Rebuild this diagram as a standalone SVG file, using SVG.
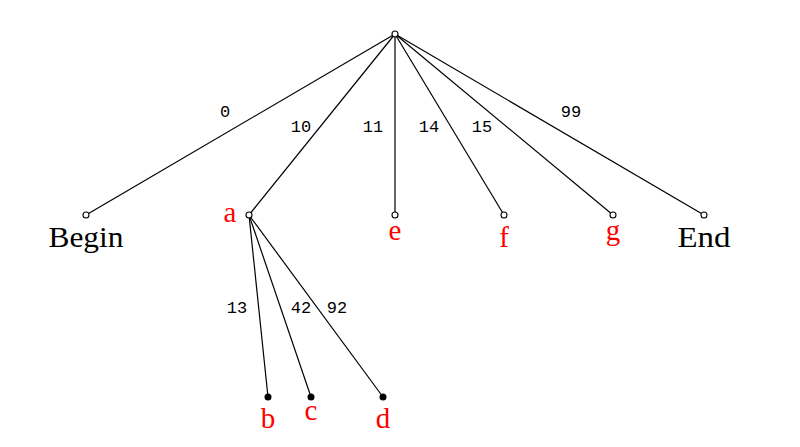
<svg xmlns="http://www.w3.org/2000/svg" width="800" height="447" viewBox="0 0 800 447">
<style>
.e{stroke:#000;stroke-width:1.2;fill:none}
.o{fill:#fff;stroke:#000;stroke-width:1.1}
.f{fill:#000}
.w{font-family:"Liberation Mono",monospace;font-size:17px;text-anchor:middle;fill:#000}
.n{font-family:"Liberation Serif",serif;font-size:29px;text-anchor:middle;fill:#000}
.r{fill:#ff0000}
</style>
<g id="connectors">
<line class="e" x1="395" y1="34" x2="86" y2="215"/>
<line class="e" x1="395" y1="34" x2="249" y2="215"/>
<line class="e" x1="395" y1="34" x2="395" y2="215"/>
<line class="e" x1="395" y1="34" x2="504" y2="215"/>
<line class="e" x1="395" y1="34" x2="613" y2="215"/>
<line class="e" x1="395" y1="34" x2="704" y2="215"/>
<line class="e" x1="249" y1="215" x2="268" y2="397"/>
<line class="e" x1="249" y1="215" x2="311" y2="397"/>
<line class="e" x1="249" y1="215" x2="383" y2="397"/>
<text class="w" x="225" y="117">0</text>
<text class="w" x="301" y="132">10</text>
<text class="w" x="373" y="132">11</text>
<text class="w" x="429" y="132">14</text>
<text class="w" x="482" y="132">15</text>
<text class="w" x="571" y="117">99</text>
<text class="w" x="237" y="313">13</text>
<text class="w" x="301" y="313">42</text>
<text class="w" x="337" y="313">92</text>
</g>
<g id="root"><circle class="o" cx="395" cy="34" r="3"/></g>
<g id="begin"><circle class="o" cx="86" cy="215" r="3"/><text class="n" x="86" y="247" textLength="75" lengthAdjust="spacingAndGlyphs">Begin</text></g>
<g id="a"><circle class="o" cx="249" cy="215" r="3"/><text class="n r" x="230" y="222">a</text></g>
<g id="e"><circle class="o" cx="395" cy="215" r="3"/><text class="n r" x="395" y="240">e</text></g>
<g id="f"><circle class="o" cx="504" cy="215" r="3"/><text class="n r" x="504" y="247">f</text></g>
<g id="g"><circle class="o" cx="613" cy="215" r="3"/><text class="n r" x="613" y="240">g</text></g>
<g id="end"><circle class="o" cx="704" cy="215" r="3"/><text class="n" x="704" y="247" textLength="53" lengthAdjust="spacingAndGlyphs">End</text></g>
<g id="b"><circle class="f" cx="268" cy="397" r="3.5"/><text class="n r" x="268" y="428">b</text></g>
<g id="c"><circle class="f" cx="311" cy="397" r="3.5"/><text class="n r" x="311" y="420">c</text></g>
<g id="d"><circle class="f" cx="383" cy="397" r="3.5"/><text class="n r" x="383" y="428">d</text></g>
</svg>
